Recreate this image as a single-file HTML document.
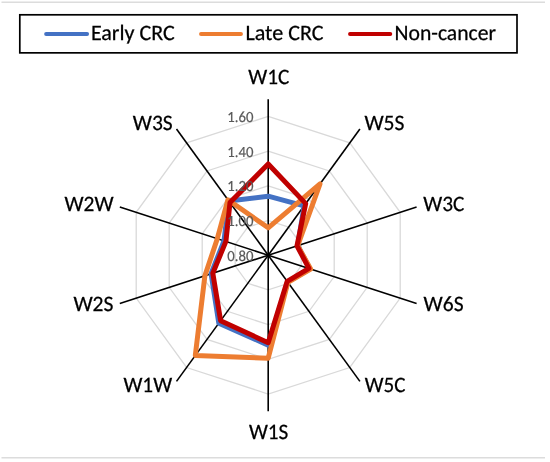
<!DOCTYPE html>
<html><head><meta charset="utf-8"><style>
html,body{margin:0;padding:0;background:#fff;}
body{width:550px;height:462px;overflow:hidden;position:relative;}
svg{position:absolute;left:0;top:0;}
text{font-family:Carlito,"Liberation Sans",sans-serif;text-rendering:geometricPrecision;}
.ax{font-size:22px;fill:#000;stroke:#000;stroke-width:0.25px;}
.tk{font-size:15.5px;fill:#595959;stroke:#595959;stroke-width:0.2px;text-anchor:end;}
.lg{font-size:22px;fill:#000;stroke:#000;stroke-width:0.25px;}
</style></head><body>
<svg width="550" height="462" viewBox="0 0 550 462">
<line x1="1.5" y1="2.2" x2="545" y2="2.2" stroke="#dcdcdc" stroke-width="1.5"/>
<line x1="1.5" y1="457.7" x2="545" y2="457.7" stroke="#dcdcdc" stroke-width="1.5"/>
<rect x="19.8" y="14.8" width="497.2" height="38.05" fill="none" stroke="#000" stroke-width="1.7"/>
<line x1="46.1" y1="34" x2="87.1" y2="34" stroke="#4472c4" stroke-width="3.9" stroke-linecap="round"/>
<text x="90.90" y="39.5" class="lg" textLength="83.99" lengthAdjust="spacingAndGlyphs">Early CRC</text>
<line x1="201" y1="34" x2="241" y2="34" stroke="#ed7d31" stroke-width="3.9" stroke-linecap="round"/>
<text x="245.40" y="39.5" class="lg" textLength="78.17" lengthAdjust="spacingAndGlyphs">Late CRC</text>
<line x1="350" y1="34" x2="390.3" y2="34" stroke="#c00000" stroke-width="3.9" stroke-linecap="round"/>
<text x="394.52" y="39.5" class="lg" textLength="101.51" lengthAdjust="spacingAndGlyphs">Non-cancer</text>
<polygon points="268.2,220.5 288.6,227.1 301.2,244.5 301.2,265.9 288.6,283.3 268.2,289.9 247.8,283.3 235.2,265.9 235.2,244.5 247.8,227.1" fill="none" stroke="#d9d9d9" stroke-width="1.3"/>
<polygon points="268.2,185.8 309.0,199.1 334.2,233.8 334.2,276.6 309.0,311.3 268.2,324.6 227.4,311.3 202.2,276.6 202.2,233.8 227.4,199.1" fill="none" stroke="#d9d9d9" stroke-width="1.3"/>
<polygon points="268.2,151.1 329.4,171.0 367.2,223.0 367.2,287.4 329.4,339.4 268.2,359.3 207.0,339.4 169.2,287.4 169.2,223.0 207.0,171.0" fill="none" stroke="#d9d9d9" stroke-width="1.3"/>
<polygon points="268.2,116.4 349.8,142.9 400.2,212.3 400.2,298.1 349.8,367.5 268.2,394.0 186.6,367.5 136.2,298.1 136.2,212.3 186.6,142.9" fill="none" stroke="#d9d9d9" stroke-width="1.3"/>
<line x1="268.2" y1="255.2" x2="268.2" y2="99.2" stroke="#000" stroke-width="1.6"/>
<line x1="268.2" y1="255.2" x2="359.9" y2="129.0" stroke="#000" stroke-width="1.6"/>
<line x1="268.2" y1="255.2" x2="416.6" y2="207.0" stroke="#000" stroke-width="1.6"/>
<line x1="268.2" y1="255.2" x2="416.6" y2="303.4" stroke="#000" stroke-width="1.6"/>
<line x1="268.2" y1="255.2" x2="359.9" y2="381.4" stroke="#000" stroke-width="1.6"/>
<line x1="268.2" y1="255.2" x2="268.2" y2="411.2" stroke="#000" stroke-width="1.6"/>
<line x1="268.2" y1="255.2" x2="176.5" y2="381.4" stroke="#000" stroke-width="1.6"/>
<line x1="268.2" y1="255.2" x2="119.8" y2="303.4" stroke="#000" stroke-width="1.6"/>
<line x1="268.2" y1="255.2" x2="119.8" y2="207.0" stroke="#000" stroke-width="1.6"/>
<line x1="268.2" y1="255.2" x2="176.5" y2="129.0" stroke="#000" stroke-width="1.6"/>
<polygon points="268.2,196.2 304.1,205.8 297.7,245.6 310.0,268.8 287.6,281.9 268.2,345.2 218.8,323.2 211.1,273.7 224.0,240.8 228.8,201.0" fill="none" stroke="#4472c4" stroke-width="5.0" stroke-linejoin="round"/>
<polygon points="268.2,227.8 320.0,183.8 297.7,245.6 310.6,269.0 287.9,282.3 268.2,358.2 195.3,355.5 204.9,275.8 217.3,238.7 227.9,199.8" fill="none" stroke="#ed7d31" stroke-width="5.0" stroke-linejoin="round"/>
<polygon points="268.2,164.0 305.7,203.6 297.0,245.8 308.9,268.4 287.2,281.3 268.2,342.7 220.6,320.7 212.8,273.2 225.9,241.4 230.0,202.6" fill="none" stroke="#c00000" stroke-width="5.0" stroke-linejoin="round"/>
<text x="253.5" y="260.7" class="tk" textLength="26.15" lengthAdjust="spacingAndGlyphs">0.80</text>
<text x="253.5" y="226.0" class="tk" textLength="26.15" lengthAdjust="spacingAndGlyphs">1.00</text>
<text x="253.5" y="191.3" class="tk" textLength="26.15" lengthAdjust="spacingAndGlyphs">1.20</text>
<text x="253.5" y="156.6" class="tk" textLength="26.15" lengthAdjust="spacingAndGlyphs">1.40</text>
<text x="253.5" y="121.9" class="tk" textLength="26.15" lengthAdjust="spacingAndGlyphs">1.60</text>
<text x="248.20" y="83.6" class="ax" textLength="41.14" lengthAdjust="spacingAndGlyphs">W1C</text>
<text x="364.40" y="129.5" class="ax" textLength="40.03" lengthAdjust="spacingAndGlyphs">W5S</text>
<text x="423.30" y="210.5" class="ax" textLength="41.14" lengthAdjust="spacingAndGlyphs">W3C</text>
<text x="423.60" y="310.8" class="ax" textLength="40.03" lengthAdjust="spacingAndGlyphs">W6S</text>
<text x="364.70" y="392.3" class="ax" textLength="40.73" lengthAdjust="spacingAndGlyphs">W5C</text>
<text x="248.90" y="438.5" class="ax" textLength="39.41" lengthAdjust="spacingAndGlyphs">W1S</text>
<text x="123.40" y="392.3" class="ax" textLength="48.69" lengthAdjust="spacingAndGlyphs">W1W</text>
<text x="73.40" y="310.8" class="ax" textLength="40.13" lengthAdjust="spacingAndGlyphs">W2S</text>
<text x="64.50" y="210.5" class="ax" textLength="49.09" lengthAdjust="spacingAndGlyphs">W2W</text>
<text x="132.80" y="129.5" class="ax" textLength="39.92" lengthAdjust="spacingAndGlyphs">W3S</text>
</svg>
</body></html>
